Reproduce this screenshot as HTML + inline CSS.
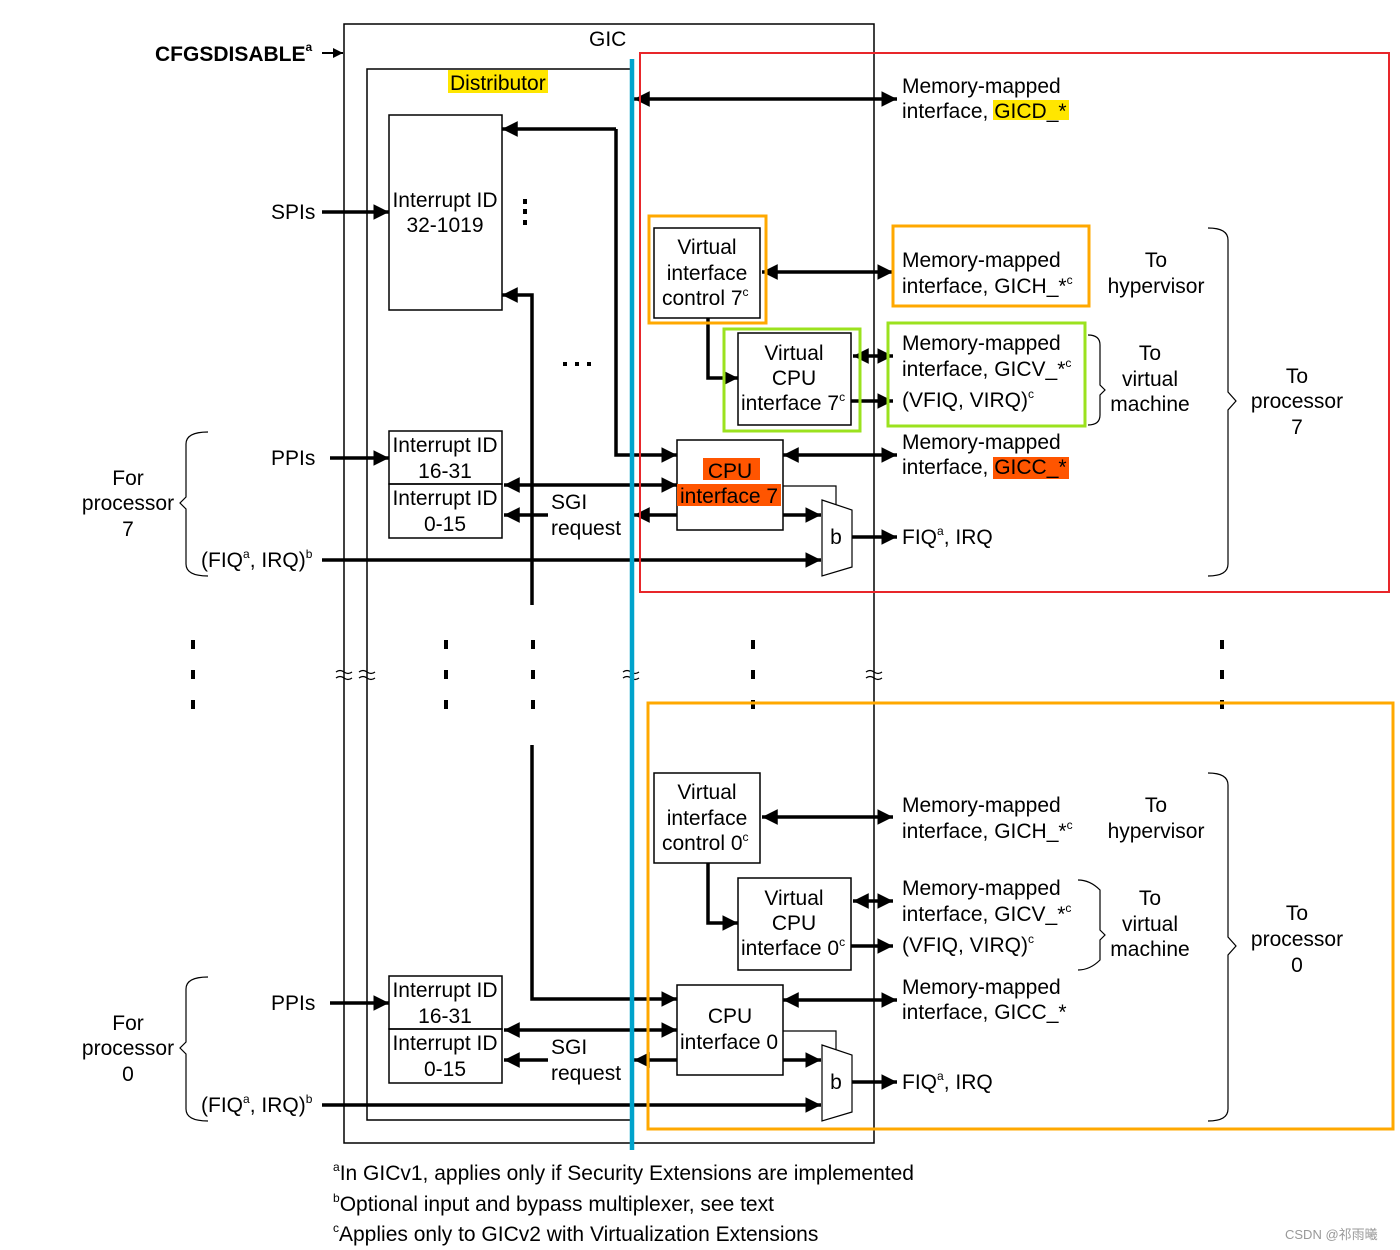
<!DOCTYPE html>
<html><head><meta charset="utf-8"><style>
html,body{margin:0;padding:0;background:#fff}
svg{display:block;font-family:"Liberation Sans","Noto Sans CJK SC",sans-serif}
text{font-size:21px;fill:#000}
.t{fill:none;stroke:#000;stroke-width:1.5}
.k{fill:none;stroke:#000;stroke-width:3.5}
.c{text-anchor:middle}
.sp{font-size:12px}
</style></head><body>
<svg width="1400" height="1250" viewBox="0 0 1400 1250" xmlns="http://www.w3.org/2000/svg">
<defs>
<marker id="a" viewBox="0 0 10 10" refX="10" refY="5" markerWidth="4.5" markerHeight="5" orient="auto-start-reverse" markerUnits="strokeWidth"><path d="M0,0L10,5L0,10z" fill="#000"/></marker>
<marker id="s" viewBox="0 0 10 10" refX="10" refY="5" markerWidth="10" markerHeight="10" orient="auto" markerUnits="userSpaceOnUse"><path d="M0,0L10,5L0,10z" fill="#000"/></marker>
</defs>

<rect x="344" y="24" width="530" height="1119" class="t"/>
<text x="589" y="46">GIC</text>
<rect x="367" y="69" width="264" height="1051" class="t"/>
<rect x="448" y="70" width="100" height="23" fill="#ffe600"/>
<text x="450" y="90">Distributor</text>
<text x="155" y="61" style="font-weight:bold">CFGSDISABLE<tspan class="sp" dy="-10">a</tspan></text>
<line x1="322" y1="53" x2="343" y2="53" stroke="#000" stroke-width="2" marker-end="url(#s)"/>

<g fill="none" stroke="#000" stroke-width="1.2">
<path d="M336,672q4,-3 8,0t8,0M336,678q4,-3 8,0t8,0"/>
<path d="M359,672q4,-3 8,0t8,0M359,678q4,-3 8,0t8,0"/>
<path d="M623,672q4,-3 8,0t8,0M623,678q4,-3 8,0t8,0"/>
<path d="M866,672q4,-3 8,0t8,0M866,678q4,-3 8,0t8,0"/>
</g>

<rect x="389" y="115" width="113" height="195" class="t"/>
<text x="445" y="207" class="c">Interrupt ID</text>
<text x="445" y="232" class="c">32-1019</text>
<text x="271" y="219">SPIs</text>
<line x1="322" y1="212" x2="389" y2="212" class="k" marker-end="url(#a)"/>
<g fill="#000"><rect x="523" y="199" width="4" height="5"/><rect x="523" y="209" width="4" height="5"/><rect x="523" y="220" width="4" height="5"/>
<rect x="563" y="362" width="4" height="4"/><rect x="575" y="362" width="4" height="4"/><rect x="587" y="362" width="4" height="4"/></g>
<polyline points="616,129 616,455 677,455" class="k" marker-end="url(#a)"/>
<line x1="616" y1="129" x2="502" y2="129" class="k" marker-end="url(#a)"/>
<polyline points="532,605 532,295 502,295" class="k" marker-end="url(#a)"/>

<line x1="634" y1="99" x2="897" y2="99" class="k" marker-start="url(#a)" marker-end="url(#a)"/>
<text x="902" y="93">Memory-mapped</text>
<rect x="993" y="100" width="76" height="20" fill="#ffe600"/>
<text x="902" y="118">interface, GICD_*</text>

<g>
<rect x="654" y="228" width="106" height="90" class="t"/>
<text x="707" y="254" class="c">Virtual</text>
<text x="707" y="280" class="c">interface</text>
<text x="662" y="305">control 7<tspan class="sp" dy="-9">c</tspan></text>
<line x1="762" y1="272" x2="893" y2="272" class="k" marker-start="url(#a)" marker-end="url(#a)"/>
<text x="902" y="267">Memory-mapped</text>
<text x="902" y="293">interface, GICH_*<tspan class="sp" dy="-9">c</tspan></text>
<text x="1156" y="267" class="c">To</text><text x="1156" y="293" class="c">hypervisor</text>

<rect x="738" y="333" width="113" height="92" class="t"/>
<text x="794" y="360" class="c">Virtual</text>
<text x="794" y="385" class="c">CPU</text>
<text x="741" y="410">interface 7<tspan class="sp" dy="-9">c</tspan></text>
<polyline points="708,318 708,378 738,378" class="k" marker-end="url(#a)"/>
<line x1="853" y1="356" x2="893" y2="356" class="k" marker-start="url(#a)" marker-end="url(#a)"/>
<line x1="851" y1="401" x2="893" y2="401" class="k" marker-end="url(#a)"/>
<text x="902" y="350">Memory-mapped</text>
<text x="902" y="376">interface, GICV_*<tspan class="sp" dy="-9">c</tspan></text>
<text x="902" y="407">(VFIQ, VIRQ)<tspan class="sp" dy="-9">c</tspan></text>
<path d="M1088,335q12,0 12,10v40l5,5l-5,5v20q0,10 -12,10" fill="none" stroke="#000" stroke-width="1.2"/>
<text x="1150" y="360" class="c">To</text><text x="1150" y="386" class="c">virtual</text><text x="1150" y="411" class="c">machine</text>
<path d="M1208,228q20,0 20,12v152l8,9l-8,9v154q0,12 -20,12" fill="none" stroke="#000" stroke-width="1.2"/>
<text x="1297" y="383" class="c">To</text><text x="1297" y="408" class="c">processor</text><text x="1297" y="434" class="c">7</text>

<rect x="677" y="440" width="106" height="90" class="t"/>
<line x1="783" y1="455" x2="897" y2="455" class="k" marker-start="url(#a)" marker-end="url(#a)"/>
<text x="902" y="449">Memory-mapped</text>
<rect x="993" y="457" width="76" height="22" fill="#ff5500"/>
<text x="902" y="474">interface, GICC_*</text>
<line x1="504" y1="485" x2="677" y2="485" class="k" marker-start="url(#a)" marker-end="url(#a)"/>
<line x1="548" y1="515" x2="504" y2="515" class="k" marker-end="url(#a)"/>
<line x1="677" y1="515" x2="634" y2="515" class="k" marker-end="url(#a)"/>
<text x="551" y="509">SGI</text><text x="551" y="535">request</text>
<polyline points="783,486 836,486 836,505" fill="none" stroke="#000" stroke-width="1.2"/>
<line x1="783" y1="515" x2="821" y2="515" class="k" marker-end="url(#a)"/>
<polygon points="822,500 852,510 852,567 822,576" fill="#fff" stroke="#000" stroke-width="1.2"/>
<text x="836" y="544" class="c">b</text>
<line x1="852" y1="537" x2="897" y2="537" class="k" marker-end="url(#a)"/>
<text x="902" y="544">FIQ<tspan class="sp" dy="-9">a</tspan><tspan dy="9">, IRQ</tspan></text>
<line x1="322" y1="560" x2="821" y2="560" class="k" marker-end="url(#a)"/>
<text x="201" y="567">(FIQ<tspan class="sp" dy="-9">a</tspan><tspan dy="9">, IRQ)</tspan><tspan class="sp" dy="-9">b</tspan></text>
<text x="271" y="465">PPIs</text>
<line x1="330" y1="458" x2="389" y2="458" class="k" marker-end="url(#a)"/>
<rect x="389" y="431" width="113" height="53" class="t"/>
<rect x="389" y="484" width="113" height="54" class="t"/>
<text x="445" y="452" class="c">Interrupt ID</text><text x="445" y="478" class="c">16-31</text>
<text x="445" y="505" class="c">Interrupt ID</text><text x="445" y="531" class="c">0-15</text>
<text x="128" y="485" class="c">For</text><text x="128" y="510" class="c">processor</text><text x="128" y="536" class="c">7</text>
<path d="M208,432q-22,0 -22,12v53l-6,6l6,6v55q0,12 22,12" fill="none" stroke="#000" stroke-width="1.2"/>
</g>

<rect x="703" y="458" width="57" height="22" fill="#ff5500"/>
<rect x="677" y="484" width="104" height="22" fill="#ff5500"/>
<text x="730" y="478" class="c">CPU</text>
<text x="729" y="503" class="c">interface 7</text>

<g transform="translate(0,545)">
<rect x="654" y="228" width="106" height="90" class="t"/>
<text x="707" y="254" class="c">Virtual</text>
<text x="707" y="280" class="c">interface</text>
<text x="662" y="305">control 0<tspan class="sp" dy="-9">c</tspan></text>
<line x1="762" y1="272" x2="893" y2="272" class="k" marker-start="url(#a)" marker-end="url(#a)"/>
<text x="902" y="267">Memory-mapped</text>
<text x="902" y="293">interface, GICH_*<tspan class="sp" dy="-9">c</tspan></text>
<text x="1156" y="267" class="c">To</text><text x="1156" y="293" class="c">hypervisor</text>
<rect x="738" y="333" width="113" height="92" class="t"/>
<text x="794" y="360" class="c">Virtual</text>
<text x="794" y="385" class="c">CPU</text>
<text x="741" y="410">interface 0<tspan class="sp" dy="-9">c</tspan></text>
<polyline points="708,318 708,378 738,378" class="k" marker-end="url(#a)"/>
<line x1="853" y1="356" x2="893" y2="356" class="k" marker-start="url(#a)" marker-end="url(#a)"/>
<line x1="851" y1="401" x2="893" y2="401" class="k" marker-end="url(#a)"/>
<text x="902" y="350">Memory-mapped</text>
<text x="902" y="376">interface, GICV_*<tspan class="sp" dy="-9">c</tspan></text>
<text x="902" y="407">(VFIQ, VIRQ)<tspan class="sp" dy="-9">c</tspan></text>
<path d="M1078,335q12,0 22,10v40l5,5l-5,5v20q-10,10 -22,10" fill="none" stroke="#000" stroke-width="1.2"/>
<text x="1150" y="360" class="c">To</text><text x="1150" y="386" class="c">virtual</text><text x="1150" y="411" class="c">machine</text>
<path d="M1208,228q20,0 20,12v152l8,9l-8,9v154q0,12 -20,12" fill="none" stroke="#000" stroke-width="1.2"/>
<text x="1297" y="375" class="c">To</text><text x="1297" y="401" class="c">processor</text><text x="1297" y="427" class="c">0</text>
<rect x="677" y="440" width="106" height="90" class="t"/>
<text x="730" y="478" class="c">CPU</text>
<text x="729" y="504" class="c">interface 0</text>
<line x1="783" y1="455" x2="897" y2="455" class="k" marker-start="url(#a)" marker-end="url(#a)"/>
<text x="902" y="449">Memory-mapped</text>
<text x="902" y="474">interface, GICC_*</text>
<line x1="504" y1="485" x2="677" y2="485" class="k" marker-start="url(#a)" marker-end="url(#a)"/>
<line x1="548" y1="515" x2="504" y2="515" class="k" marker-end="url(#a)"/>
<line x1="677" y1="515" x2="634" y2="515" class="k" marker-end="url(#a)"/>
<text x="551" y="509">SGI</text><text x="551" y="535">request</text>
<polyline points="783,486 836,486 836,505" fill="none" stroke="#000" stroke-width="1.2"/>
<line x1="783" y1="515" x2="821" y2="515" class="k" marker-end="url(#a)"/>
<polygon points="822,500 852,510 852,567 822,576" fill="#fff" stroke="#000" stroke-width="1.2"/>
<text x="836" y="544" class="c">b</text>
<line x1="852" y1="537" x2="897" y2="537" class="k" marker-end="url(#a)"/>
<text x="902" y="544">FIQ<tspan class="sp" dy="-9">a</tspan><tspan dy="9">, IRQ</tspan></text>
<line x1="322" y1="560" x2="821" y2="560" class="k" marker-end="url(#a)"/>
<text x="201" y="567">(FIQ<tspan class="sp" dy="-9">a</tspan><tspan dy="9">, IRQ)</tspan><tspan class="sp" dy="-9">b</tspan></text>
<text x="271" y="465">PPIs</text>
<line x1="330" y1="458" x2="389" y2="458" class="k" marker-end="url(#a)"/>
<rect x="389" y="431" width="113" height="53" class="t"/>
<rect x="389" y="484" width="113" height="54" class="t"/>
<text x="445" y="452" class="c">Interrupt ID</text><text x="445" y="478" class="c">16-31</text>
<text x="445" y="505" class="c">Interrupt ID</text><text x="445" y="531" class="c">0-15</text>
<text x="128" y="485" class="c">For</text><text x="128" y="510" class="c">processor</text><text x="128" y="536" class="c">0</text>
<path d="M208,432q-22,0 -22,12v53l-6,6l6,6v55q0,12 22,12" fill="none" stroke="#000" stroke-width="1.2"/>
</g>
<polyline points="532,745 532,999 677,999" class="k" marker-end="url(#a)"/>

<g fill="#000">
<rect x="191" y="640" width="4" height="9"/><rect x="191" y="670" width="4" height="9"/><rect x="191" y="700" width="4" height="9"/>
<rect x="444" y="640" width="4" height="9"/><rect x="444" y="670" width="4" height="9"/><rect x="444" y="700" width="4" height="9"/>
<rect x="531" y="640" width="4" height="9"/><rect x="531" y="670" width="4" height="9"/><rect x="531" y="700" width="4" height="9"/>
<rect x="751" y="640" width="4" height="9"/><rect x="751" y="670" width="4" height="9"/><rect x="751" y="700" width="4" height="9"/>
<rect x="1220" y="640" width="4" height="9"/><rect x="1220" y="670" width="4" height="9"/><rect x="1220" y="700" width="4" height="9"/>
</g>

<rect x="640" y="53" width="749" height="539" fill="none" stroke="#e8262a" stroke-width="2"/>
<rect x="648" y="703" width="745" height="426" fill="none" stroke="#ffa800" stroke-width="3"/>
<rect x="649" y="216" width="117" height="107" fill="none" stroke="#ffa800" stroke-width="3"/>
<rect x="893" y="226" width="196" height="80" fill="none" stroke="#ffa800" stroke-width="3"/>
<rect x="724" y="329" width="136" height="102" fill="none" stroke="#9be21e" stroke-width="3"/>
<rect x="888" y="323" width="197" height="103" fill="none" stroke="#9be21e" stroke-width="3"/>
<line x1="632" y1="59" x2="632" y2="1150" stroke="#00a3cc" stroke-width="4.5"/>

<text x="333" y="1180"><tspan class="sp" dy="-9">a</tspan><tspan dy="9">In GICv1, applies only if Security Extensions are implemented</tspan></text>
<text x="333" y="1211"><tspan class="sp" dy="-9">b</tspan><tspan dy="9">Optional input and bypass multiplexer, see text</tspan></text>
<text x="333" y="1241"><tspan class="sp" dy="-9">c</tspan><tspan dy="9">Applies only to GICv2 with Virtualization Extensions</tspan></text>
<text x="1285" y="1239" style="font-size:13px;fill:#999">CSDN @祁雨曦</text>
</svg>
</body></html>
